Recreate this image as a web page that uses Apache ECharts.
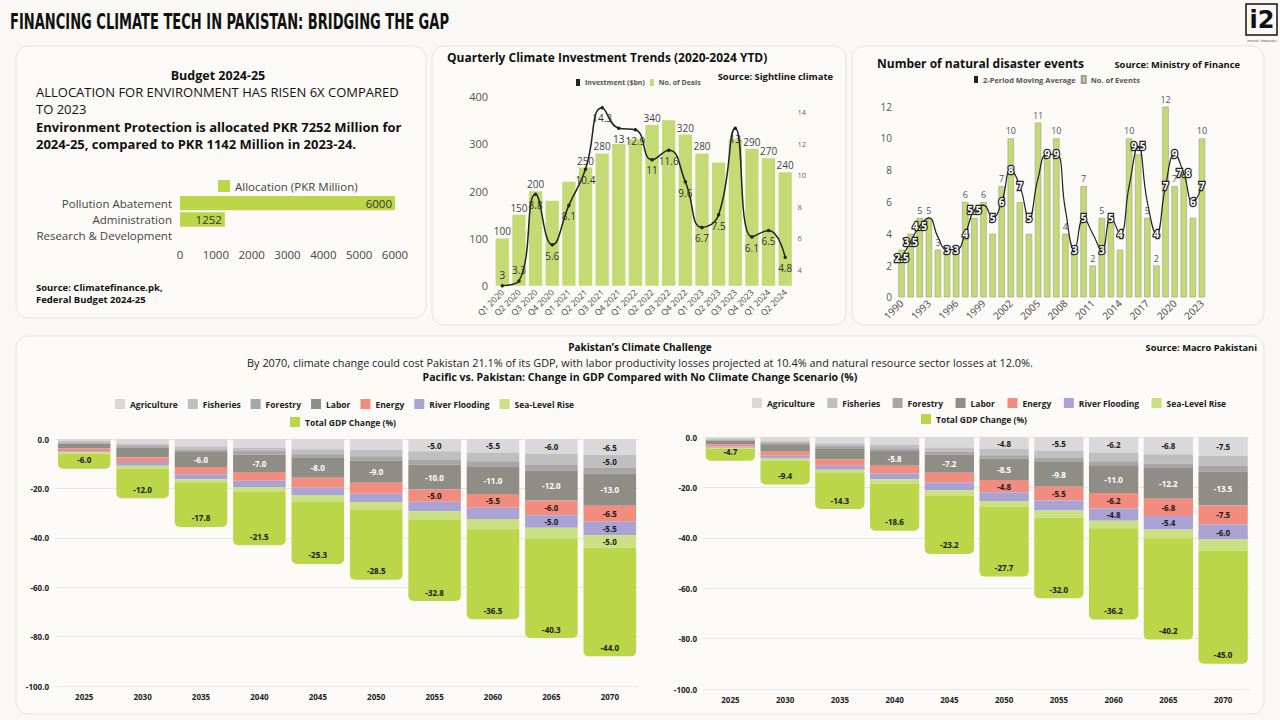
<!DOCTYPE html>
<html><head><meta charset="utf-8">
<script src="https://cdn.jsdelivr.net/npm/echarts/dist/echarts.min.js"></script>
<style>html,body{margin:0;padding:0;background:#f9f8f4;}#c{width:1280px;height:720px;}</style>
</head><body><div id="c"></div>
<script>
// ---------- DATA ----------
const budgetCats = ['Pollution Abatement', 'Administration', 'Research & Development'];
const budgetVals = [6000, 1252, null];

const quarters = ['Q1 2020','Q2 2020','Q3 2020','Q4 2020','Q1 2021','Q2 2021','Q3 2021','Q4 2021','Q1 2022','Q2 2022','Q3 2022','Q4 2022','Q1 2023','Q2 2023','Q3 2023','Q4 2023','Q1 2024','Q2 2024'];
const deals = [100,150,200,180,220,250,280,300,310,340,350,320,280,260,310,290,270,240];
const investment = [3,3.3,8.8,5.6,8.1,10.4,14.3,13,12.9,11,11.6,9.6,6.7,7.5,13,6.1,6.5,4.8];

const years = ['1990','1991','1992','1993','1994','1995','1996','1997','1998','1999','2000','2001','2002','2003','2004','2005','2006','2007','2008','2009','2010','2011','2012','2013','2014','2015','2016','2017','2018','2019','2020','2021','2022','2023'];
const events = [3,4,5,5,3,3,3,6,5,6,4,7,10,6,4,11,9,10,4,3,7,2,5,5,3,10,9,5,2,12,7,8,5,10];
const movingAvg = [2.5,3.5,4.5,5,3.8,3,3,4,5.5,5.8,5,6,8,7,5,7.5,9,9,5.5,3,5,4,3,5,4,7,9.5,6,4,7,9,7.8,6,7];

const gdpYears = ['2025','2030','2035','2040','2045','2050','2055','2060','2065','2070'];
const sectorNames = ['Agriculture','Fisheries','Forestry','Labor','Energy','River Flooding','Sea-Level Rise','Total GDP Change (%)'];
// Left chart (Pacific)
const agriL   = [-0.8,-2.0,-3.0,-3.5,-4.2,-4.5,-5.0,-5.5,-6.0,-6.5];
const fishL   = [-0.6,-0.8,-1.3,-1.4,-2.0,-2.5,-3.5,-3.5,-4.5,-5.0];
const forestL = [-0.5,-0.7,-1.0,-1.5,-1.5,-1.7,-1.9,-2.3,-2.4,-2.5];
const laborL  = [-1.9,-3.9,-6.0,-7.0,-8.0,-9.0,-10.0,-11.0,-12.0,-13.0];
const energyL = [-1.2,-1.9,-3.0,-3.5,-4.0,-4.5,-5.0,-5.5,-6.0,-6.5];
const riverL  = [-0.5,-1.5,-2.0,-2.5,-3.0,-3.3,-3.9,-4.6,-5.0,-5.5];
const seaL    = [-0.5,-1.2,-1.5,-2.1,-2.6,-3.0,-3.5,-4.1,-4.4,-5.0];
const totalL  = [-6.0,-12.0,-17.8,-21.5,-25.3,-28.5,-32.8,-36.5,-40.3,-44.0];
// Right chart (Pakistan)
const agriR   = [-0.6,-1.6,-2.6,-3.2,-4.2,-4.8,-5.5,-6.2,-6.8,-7.5];
const fishR   = [-0.5,-0.7,-1.0,-1.3,-1.6,-2.4,-2.8,-3.4,-3.7,-4.0];
const forestR = [-0.4,-0.6,-0.9,-1.1,-1.2,-1.4,-1.6,-1.6,-1.8,-2.2];
const laborR  = [-1.5,-3.0,-4.4,-5.8,-7.2,-8.5,-9.8,-11.0,-12.2,-13.5];
const energyR = [-0.9,-1.5,-2.5,-3.1,-3.9,-4.8,-5.5,-6.2,-6.8,-7.5];
const riverR  = [-0.4,-1.1,-1.6,-2.3,-3.0,-3.5,-4.0,-4.8,-5.4,-6.0];
const seaR    = [-0.4,-0.9,-1.3,-1.8,-2.1,-2.3,-2.8,-3.0,-3.5,-4.3];
const totalR  = [-4.7,-9.4,-14.3,-18.6,-23.2,-27.7,-32.0,-36.2,-40.2,-45.0];

// ---------- STYLE ----------
const F = "'Open Sans', 'Noto Sans', sans-serif";
const GREEN = '#c4da74';
const sectorColors = ['#d9d9d9','#bfbfbf','#a6a6a6','#8e8e87','#f28c7f','#aaa2d4','#cbe083','#bcd64a'];
const hiddenDealLabels = [3,4,7,8,10,13,14];
const shownEventLabels = [2,3,4,7,9,11,12,15,17,18,20,21,22,25,27,28,29,30,33];
const hiddenMALabels = [3,4,9,15,18,21,25,27];

function T(x, y, text, o) {
  return { type:'text', x:x, y:y, z:50, silent:true,
    style: Object.assign({ text:text, x:0, y:0, fill:'#111', fontFamily:F, fontSize:11, align:'left', verticalAlign:'middle' }, o || {}) };
}
function panel(x, y, w, h) {
  return { type:'rect', z:-10, silent:true, shape:{x:x, y:y, width:w, height:h, r:12},
    style:{ fill:'#fbfaf7', stroke:'#e3e3e0', lineWidth:1 } };
}

const graphics = [
  panel(16,46,410,272), panel(432,46,414,279), panel(852,46,412,279), panel(16,336,1248,378),
  Object.assign(T(10, 21, 'FINANCING CLIMATE TECH IN PAKISTAN: BRIDGING THE GAP',
    { fontFamily:"'Liberation Sans Narrow', 'DejaVu Sans Condensed', sans-serif", fontWeight:'bold', fontSize:22, fill:'#111' }), { scaleX:0.66 }),
  { type:'rect', z:40, silent:true, shape:{ x:1246, y:4, width:31, height:31 }, style:{ fill:'none', stroke:'#111', lineWidth:1.5 } },
  T(1262, 20, 'i2', { fontFamily:"'DejaVu Sans', sans-serif", fontWeight:'bold', fontSize:24, align:'center', fill:'#111' }),
  T(1262, 40, 'invest. innovate', { fontSize:4, align:'center', fill:'#333' }),
  // panel 1
  T(218, 75, 'Budget 2024-25', { fontWeight:'bold', fontSize:12.5, align:'center' }),
  T(36, 92, 'ALLOCATION FOR ENVIRONMENT HAS RISEN 6X COMPARED', { fontSize:13 }),
  T(36, 109, 'TO 2023', { fontSize:13 }),
  T(36, 127, 'Environment Protection is allocated PKR 7252 Million for', { fontSize:13, fontWeight:'bold' }),
  T(36, 144, '2024-25, compared to PKR 1142 Million in 2023-24.', { fontSize:13, fontWeight:'bold' }),
  T(36, 287, 'Source: Climatefinance.pk,', { fontSize:9.5, fontWeight:'bold' }),
  T(36, 299, 'Federal Budget 2024-25', { fontSize:9.5, fontWeight:'bold' }),
  // panel 2
  T(447, 57, 'Quarterly Climate Investment Trends (2020-2024 YTD)', { fontSize:12, fontWeight:'bold' }),
  T(833, 76, 'Source: Sightline climate', { fontSize:9.4, fontWeight:'bold', align:'right' }),
  // panel 3
  T(877, 63, 'Number of natural disaster events', { fontSize:12, fontWeight:'bold' }),
  T(1240, 64, 'Source: Ministry of Finance', { fontSize:9.3, fontWeight:'bold', align:'right' }),
  // panel 4
  T(640, 347, 'Pakistan\u2019s Climate Challenge', { fontSize:10, fontWeight:'bold', align:'center' }),
  T(1257, 347, 'Source: Macro Pakistani', { fontSize:9.3, fontWeight:'bold', align:'right' }),
  T(640, 362, 'By 2070, climate change could cost Pakistan 21.1% of its GDP, with labor productivity losses projected at 10.4% and natural resource sector losses at 12.0%.', { fontSize:10.9, align:'center', fill:'#222' }),
  T(640, 377, 'Pacific vs. Pakistan: Change in GDP Compared with No Climate Change Scenario (%)', { fontSize:10.5, fontWeight:'bold', align:'center' })
];

function stackSeries(arrs, xi, yi, stackName) {
  return arrs.map(function(arr, k) {
    const isTotal = k === 7;
    return {
      name: sectorNames[k], type:'bar', stack: stackName, xAxisIndex:xi, yAxisIndex:yi,
      barCategoryGap:'10%',
      itemStyle: { color: sectorColors[k], borderRadius: isTotal ? [0,0,5,5] : 0 },
      label: { show: isTotal, position: isTotal ? 'insideBottom' : 'inside', distance: 5,
        formatter: function(p){ return p.value.toFixed(1); },
        fontFamily:F, fontSize:8, fontWeight:'bold', color: k === 3 ? '#fff' : '#1a1a1a' },
      data: arr.map(function(v){ return isTotal ? v : { value:v, label:{ show: Math.abs(v) >= 4.75 } }; })
    };
  });
}

function gdpYAxis(gi) {
  return { type:'value', gridIndex:gi, min:-100, max:0, interval:20,
    axisLabel:{ formatter:function(v){ return v.toFixed(1); }, fontFamily:F, fontSize:8, fontWeight:'bold', color:'#222', margin:6 },
    axisLine:{show:false}, axisTick:{show:false}, splitLine:{ lineStyle:{ color:'#e6e6e3' } } };
}
function gdpXAxis(gi) {
  return { type:'category', gridIndex:gi, data:gdpYears, position:'bottom',
    axisLine:{show:false, onZero:false}, axisTick:{show:false},
    axisLabel:{ fontFamily:F, fontSize:8, fontWeight:'bold', color:'#222', margin:6 } };
}
function legendRow(names, left, top, gap) {
  return { left:left, top:top, data:names, icon:'rect', itemWidth:10, itemHeight:10, itemGap:gap, padding:0,
    selectedMode:false, textStyle:{ fontFamily:F, fontSize:8.5, fontWeight:'bold', color:'#222' } };
}

const option = {
  animation:false,
  backgroundColor:'#f9f8f4',
  textStyle:{ fontFamily:F },
  graphic:{ elements: graphics },
  legend:[
    { left:218, top:180, data:['Allocation (PKR Million)'], icon:'rect', itemWidth:12, itemHeight:12, padding:0, selectedMode:false,
      textStyle:{ fontFamily:F, fontSize:11.5, color:'#444' } },
    { left:576, top:79, data:['Investment ($bn)','No. of Deals'], icon:'rect', itemWidth:4, itemHeight:7, itemGap:5, padding:0, selectedMode:false,
      textStyle:{ fontFamily:F, fontSize:7, color:'#555', fontWeight:'bold' } },
    { left:974, top:75, data:['2-Period Moving Average','No. of Events'], icon:'rect', itemWidth:4, itemHeight:7, itemGap:5, padding:0, selectedMode:false,
      textStyle:{ fontFamily:F, fontSize:7.5, color:'#555', fontWeight:'bold' } },
    legendRow(sectorNames.slice(0,7), 115, 399, 10),
    legendRow([sectorNames[7]], 290, 417, 10),
    legendRow(sectorNames.slice(0,7), 752, 398, 12.5),
    legendRow([sectorNames[7]], 921, 414, 10)
  ],
  grid:[
    { left:180, top:195, width:215, height:49 },
    { left:494, top:96.7, width:299.5, height:189 },
    { left:897, top:106.7, width:309.5, height:190.6 },
    { left:55, top:439, width:584, height:247 },
    { left:703, top:437, width:547.5, height:252 }
  ],
  xAxis:[
    { type:'value', gridIndex:0, min:0, max:6000, interval:1000, splitLine:{show:false}, axisLine:{show:false}, axisTick:{show:false},
      axisLabel:{ fontFamily:F, fontSize:11.5, color:'#444', margin:4, formatter:function(v){ return String(v); } } },
    { type:'category', gridIndex:1, data:quarters, axisLine:{show:false}, axisTick:{show:false},
      axisLabel:{ rotate:45, interval:0, fontFamily:F, fontSize:8.5, color:'#444', margin:5 } },
    { type:'category', gridIndex:2, data:years, axisLine:{show:false}, axisTick:{show:false},
      axisLabel:{ rotate:45, interval:2, fontFamily:F, fontSize:10, color:'#444', margin:4 } },
    gdpXAxis(3), gdpXAxis(4)
  ],
  yAxis:[
    { type:'category', gridIndex:0, data:budgetCats, inverse:true, axisLine:{show:false}, axisTick:{show:false},
      axisLabel:{ fontFamily:F, fontSize:11.5, color:'#444', margin:8 } },
    { type:'value', gridIndex:1, min:0, max:400, interval:100, splitLine:{show:false}, axisLine:{show:false}, axisTick:{show:false},
      axisLabel:{ fontFamily:F, fontSize:11, color:'#555', margin:6 } },
    { type:'value', gridIndex:1, position:'right', min:3, max:15, interval:1, splitLine:{show:false}, axisLine:{show:false}, axisTick:{show:false},
      axisLabel:{ fontFamily:F, fontSize:7.5, color:'#666', margin:4,
        formatter:function(v){ return (v % 2 === 0 && v >= 4 && v <= 14) ? String(v) : ''; } } },
    { type:'value', gridIndex:2, min:0, max:12, interval:2, splitLine:{show:false}, axisLine:{show:false}, axisTick:{show:false},
      axisLabel:{ fontFamily:F, fontSize:10, color:'#555', margin:5 } },
    gdpYAxis(3), gdpYAxis(4)
  ],
  series:[
    { name:'Allocation (PKR Million)', type:'bar', xAxisIndex:0, yAxisIndex:0, barCategoryGap:'12%',
      itemStyle:{ color:'#bcd64a' },
      label:{ show:true, position:'insideRight', fontFamily:F, fontSize:11.5, color:'#333', distance:3 },
      data: budgetVals },
    { name:'No. of Deals', type:'bar', xAxisIndex:1, yAxisIndex:1, barCategoryGap:'20%',
      itemStyle:{ color:GREEN },
      label:{ show:true, position:'top', distance:2, fontFamily:F, fontSize:10, color:'#444' },
      data: deals.map(function(v,i){ return hiddenDealLabels.indexOf(i) >= 0 ? { value:v, label:{show:false} } : v; }) },
    { name:'Investment ($bn)', type:'line', xAxisIndex:1, yAxisIndex:2, smooth:0.5, z:5,
      symbol:'circle', symbolSize:3.5, lineStyle:{ color:'#222', width:1.5 }, itemStyle:{ color:'#222' },
      label:{ show:true, position:'bottom', distance:4, fontFamily:F, fontSize:10, color:'#333' },
      data: investment.map(function(v,i){ return i < 2 ? { value:v, label:{ position:'top' } } : v; }) },
    { name:'No. of Events', type:'bar', xAxisIndex:2, yAxisIndex:3, barCategoryGap:'30%',
      itemStyle:{ color:GREEN, borderColor:'#9c9c96', borderWidth:0.6 },
      label:{ show:false, position:'top', distance:3, fontFamily:F, fontSize:9, color:'#555' },
      data: events.map(function(v,i){ return shownEventLabels.indexOf(i) >= 0 ? { value:v, label:{show:true} } : v; }) },
    { name:'2-Period Moving Average', type:'line', xAxisIndex:2, yAxisIndex:3, smooth:0.5, z:5,
      symbol:'circle', symbolSize:1, showSymbol:true, lineStyle:{ color:'#222', width:1.2 }, itemStyle:{ color:'#222' },
      label:{ show:true, position:'inside', fontFamily:F, fontSize:10, fontWeight:'bold', color:'#fff', textBorderColor:'#222', textBorderWidth:2.5 },
      labelLayout:{ hideOverlap:false },
      data: movingAvg.map(function(v,i){ return hiddenMALabels.indexOf(i) >= 0 ? { value:v, label:{show:false} } : v; }) }
  ].concat(
    stackSeries([agriL, fishL, forestL, laborL, energyL, riverL, seaL, totalL], 3, 4, 'L'),
    stackSeries([agriR, fishR, forestR, laborR, energyR, riverR, seaR, totalR], 4, 5, 'R')
  )
};

const chart = echarts.init(document.getElementById('c'), null, { renderer:'svg', width:1280, height:720 });
chart.setOption(option);
</script></body></html>
